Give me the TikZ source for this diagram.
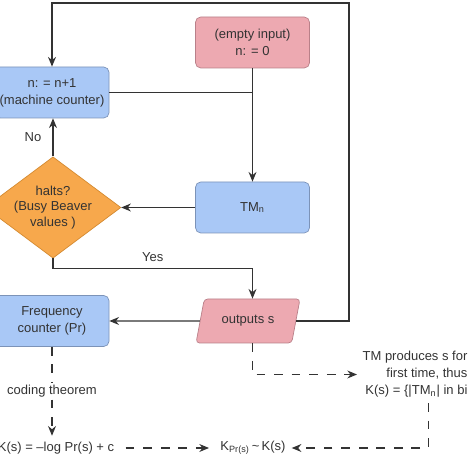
\documentclass[tikz,border=0pt]{standalone}
\usepackage{fontspec}
\setmainfont{Liberation Sans}
\usetikzlibrary{shapes.geometric,arrows.meta}

\definecolor{bluebox}{HTML}{A9C8F6}
\definecolor{blueline}{HTML}{7C93B8}
\definecolor{pinkbox}{HTML}{EDA9B1}
\definecolor{pinkline}{HTML}{B98089}
\definecolor{orangebox}{HTML}{F7A84C}
\definecolor{orangeline}{HTML}{D48A30}
\definecolor{ink}{HTML}{333333}

\begin{document}
\begin{tikzpicture}[font=\fontsize{7.4}{9.6}\selectfont, text=ink,
  box/.style={draw=blueline, fill=bluebox, rounded corners=3pt, minimum width=2.28cm, minimum height=1.02cm, align=center, inner sep=1pt},
  startbox/.style={box, draw=pinkline, fill=pinkbox},
  decision/.style={diamond, draw=orangeline, fill=orangebox, aspect=1.34, minimum width=2.68cm, minimum height=2cm, inner sep=0pt, align=center, font=\fontsize{7.4}{8.8}\selectfont},
  outbox/.style={trapezium, trapezium left angle=75, trapezium right angle=105, trapezium stretches=true, draw=pinkline, fill=pinkbox, rounded corners=2pt, minimum width=2.08cm, minimum height=0.88cm},
  flow/.style={draw=ink, line width=0.6pt, -{Stealth[length=5.5pt,width=4.5pt]}},
  hintline/.style={flow, dash pattern=on 5pt off 5pt}]

\useasboundingbox (0,0) rectangle (9.48,9.48);

% boxes of the loop
\node[startbox] (start) at (5.05,8.63) {(empty input)\\n: = 0};
\node[box] (count) at (1.04,7.63) {n: = n+1\\(machine counter)};
\node[box] (tm) at (5.05,5.33) {TM\textsubscript{n}};
\node[decision] (halt) at (1.06,5.33) {halts?\\(Busy Beaver\\values )};
\node[outbox] (outs) at (4.96,3.06) {outputs s};
\node[box] (freq) at (1.04,3.06) {Frequency\\counter (Pr)};
\coordinate (loop) at (6.98,9.42);

% bottom part
\node (kform) at (1.12,0.52) {K(s) = –log Pr(s) + c};
\node (kpr) at (5.06,0.52) {K\textsubscript{Pr(s)}\,\textasciitilde\,K(s)};
\node[align=right, anchor=west, inner sep=3pt] (proof) at (7.14,1.99) {TM produces s for\\first time, thus\\K(s) = \{|TM\textsubscript{n}| in bi};

% connectors
\draw[flow] (start) -- (tm);
\draw[draw=ink, line width=0.6pt] (count.east) -- (count.east -| start.south);
\draw[flow] (tm) -- (halt);
\draw[flow] (halt.north) -- node[left=3pt]{No} (halt.north |- count.south);
\draw[flow] (halt.south) -- ++(0,-0.2) -| node[pos=0.25, above]{Yes} (outs.north -| start.south);
\draw[flow, line width=0.9pt] (outs.east) -| (loop) -| (count.north);
\draw[flow] (outs.west) -- (freq.east);

\draw[hintline] (freq.south) -- node[fill=white, inner sep=1pt]{coding theorem} (freq.south |- kform.north);
\draw[hintline, shorten <=3pt, shorten >=3pt] (kform.east) -- (kpr.west);
\draw[hintline] (outs.south -| start.south) |- (proof.west);
\draw[hintline] ([xshift=0.26cm]proof.south) |- (kpr.east);

\end{tikzpicture}
\end{document}
